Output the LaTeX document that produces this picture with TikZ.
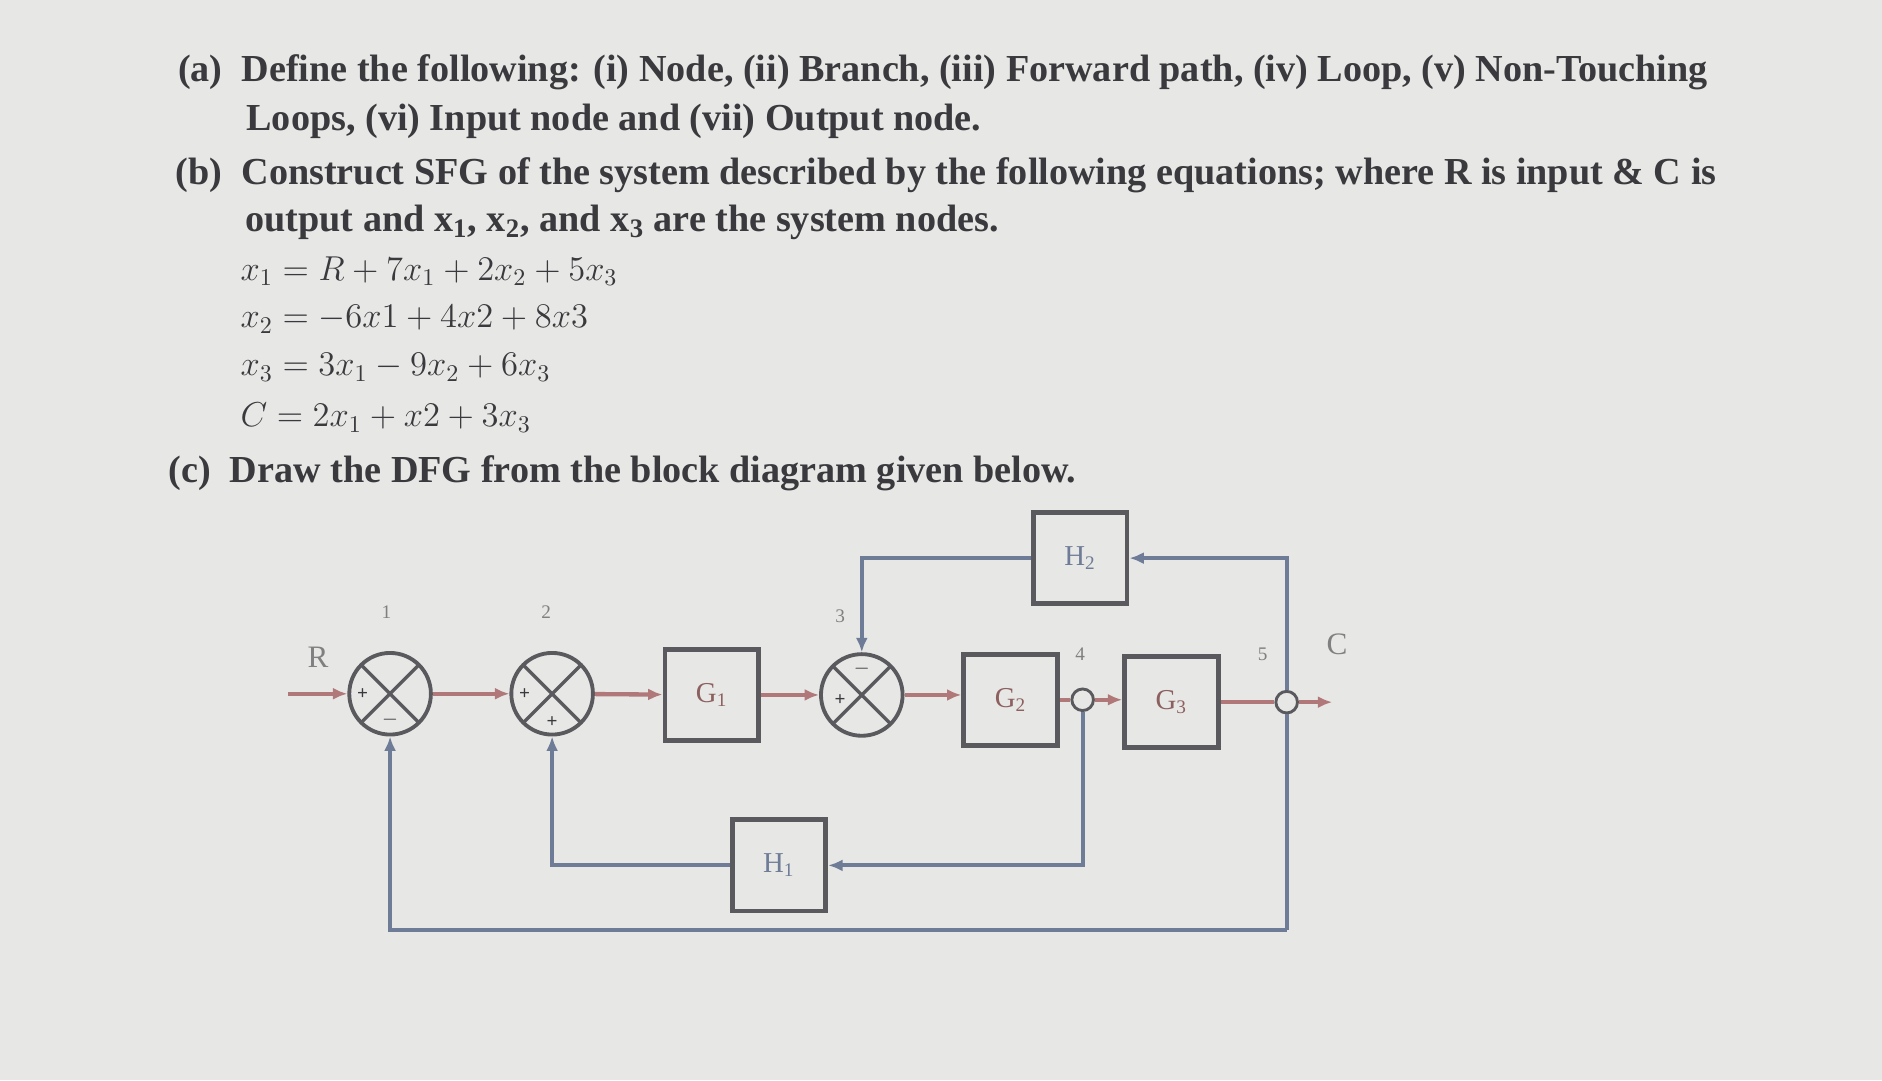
\documentclass[tikz,border=0pt]{standalone}
\usepackage{fontspec}
\setmainfont{Liberation Serif}
\usetikzlibrary{arrows.meta}
\definecolor{bg}{HTML}{E7E7E5}
\definecolor{ink}{HTML}{3A3A3E}
\definecolor{fwd}{HTML}{B07878}
\definecolor{fb}{HTML}{6E7C98}
\definecolor{box}{HTML}{5A5A5E}
\tikzset{
  txt/.style={anchor=west,inner sep=0pt,text=ink,font=\fontsize{15.9}{17}\selectfont\bfseries},
  eq/.style={anchor=west,inner sep=0pt,text=ink,font=\fontsize{14.8}{17}\selectfont},
  sumj/.style={circle,draw=box,line width=1.6pt,minimum size=34pt,inner sep=0pt,
    path picture={\draw[box,line width=1.4pt] (path picture bounding box.north west)--(path picture bounding box.south east)
      (path picture bounding box.north east)--(path picture bounding box.south west);}},
  blk/.style={draw=box,line width=2pt,fill=bg,minimum width=39pt,minimum height=38pt,text=fwd!80!black,font=\fontsize{12}{14}\selectfont},
  hblk/.style={blk,text=fb},
  pt/.style={circle,draw=box,line width=1.2pt,minimum size=9pt,inner sep=0pt,fill=bg},
  fa/.style={draw=fwd,line width=1.8pt,-{Latex[length=6pt,width=5pt]}},
  fbl/.style={draw=fb,line width=1.6pt,-{Latex[length=6pt,width=5pt]}},
  fbn/.style={draw=fb,line width=1.6pt},
  sg/.style={font=\fontsize{8}{9}\selectfont\bfseries,text=ink,inner sep=0pt},
  lbl/.style={font=\fontsize{8}{9}\selectfont,text=gray,inner sep=0pt}
}
\begin{document}
\begin{tikzpicture}[x=0.5pt,y=-0.5pt]
\fill[bg] (0,0) rectangle (1568,900);
\node[txt] (a1) at (148,60) {(a)\ \ Define the following: (i) Node, (ii) Branch, (iii) Forward path, (iv) Loop, (v) Non-Touching};
\node[txt] (a2) at (205,101) {Loops, (vi) Input node and (vii) Output node.};
\node[txt] (b1) at (146,146) {(b)\ \ Construct SFG of the system described by the following equations; where R is input \& C is};
\node[txt] (b2) at (204,185) {output and x\textsubscript{1}, x\textsubscript{2}, and x\textsubscript{3} are the system nodes.};
\node[eq] (e1) at (200,226) {$x_1 = R + 7x_1 + 2x_2 + 5x_3$};
\node[eq] (e2) at (200,266) {$x_2 = -6x1 + 4x2 + 8x3$};
\node[eq] (e3) at (200,306) {$x_3 = 3x_1 - 9x_2 + 6x_3$};
\node[eq] (e4) at (200,348) {$C = 2x_1 + x2 + 3x_3$};
\node[txt] (c1) at (140,394) {(c)\ \ Draw the DFG from the block diagram given below.};
% diagram
\coordinate (rin) at (240,578);
\node[sumj] (s1) at (325,578) {};
\node[sumj] (s2) at (460,578) {};
\node[blk] (g1) at (593,579) {G\textsubscript{1}};
\node[sumj] (s3) at (718,579) {};
\node[blk] (g2) at (842,583) {G\textsubscript{2}};
\node[pt] (n4) at (902,583) {};
\node[blk] (g3) at (976,585) {G\textsubscript{3}};
\node[pt] (n5) at (1072,585) {};
\coordinate (cout) at (1110,585);
\node[hblk] (h2) at (900,465) {H\textsubscript{2}};
\node[hblk] (h1) at (649,721) {H\textsubscript{1}};
\node[text=gray,font=\fontsize{13}{15}\selectfont] (rl) at (265,548) {R};
\node[text=gray,font=\fontsize{13}{15}\selectfont] (cl) at (1114,537) {C};
\node[lbl] (l1) at (322,510) {1};
\node[lbl] (l2) at (455,510) {2};
\node[lbl] (l3) at (700,513) {3};
\node[lbl] (l4) at (900,545) {4};
\node[lbl] (l5) at (1052,545) {5};
% signs
\node[sg] at (302,578) {+};
\node[sg] at (325,600) {$-$};
\node[sg] at (437,578) {+};
\node[sg] at (460,602) {+};
\node[sg] at (718,557) {$-$};
\node[sg] at (700,583) {+};
% forward
\draw[fa] (rin) -- (s1);
\draw[fa] (s1) -- (s2);
\draw[fa] (s2) -- (g1);
\draw[fa] (g1) -- (s3);
\draw[fa] (s3.east) -- (g2.west |- s3.east);
\draw[draw=fwd,line width=1.8pt] (g2.east) -- (n4);
\draw[fa] (n4) -- (g3.west |- n4);
\draw[draw=fwd,line width=1.8pt] (g3.east) -- (n5);
\draw[fa] (n5) -- (cout);
% feedback
\draw[fbl] (n5) |- (h2.east);
\draw[fbl] (h2.west) -| (s3.north);
\draw[fbl] (n4) |- (h1.east);
\draw[fbl] (h1.west) -| (s2.south);
\coordinate (bl) at (1072,775);
\draw[fbn] (n5) -- (bl);
\draw[fbl] (bl) -| (s1.south);
\end{tikzpicture}
\end{document}
